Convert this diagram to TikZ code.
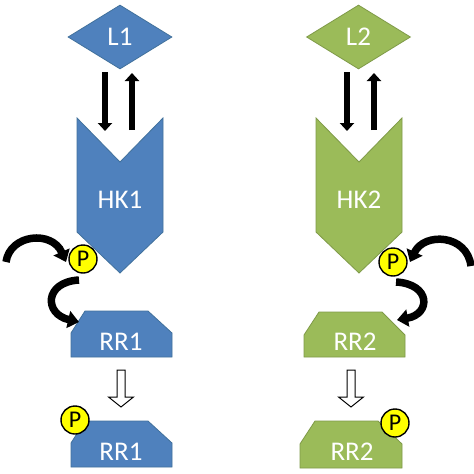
\documentclass[tikz,border=0pt]{standalone}
\usepackage{fontspec}
\setmainfont{Carlito}
\usetikzlibrary{shapes.geometric,arrows.meta}
\definecolor{bfill}{HTML}{4F81BD}
\definecolor{bline}{HTML}{41719C}
\definecolor{gfill}{HTML}{9BBB59}
\definecolor{gline}{HTML}{7F9A48}
\definecolor{pyel}{HTML}{FFFF00}
\tikzset{
  lbl/.style={text=white, font=\fontsize{27}{30}\selectfont, inner sep=0pt},
  shp/.style={fill=#1fill, draw=#1line, line width=0.8pt},
  lig/.style={diamond, shp=#1, minimum width=104pt, minimum height=64pt, inner sep=0pt, lbl},
  pcirc/.style={circle, fill=pyel, draw=black, line width=1.4pt, minimum size=28pt, inner sep=0pt, font=\fontsize{24}{26}\selectfont},
  bind/.style={line width=6.5pt, -{Triangle[width=14pt,length=8pt]}},
  curv/.style={line width=7.5pt, -{Triangle[width=17pt,length=11pt]}},
  hollow/.style={fill=white, draw=black, line width=1pt, line join=miter}
}
\begin{document}
\begin{tikzpicture}[x=1pt,y=-1pt]
\useasboundingbox (0,0) rectangle (474,474);
\fill[white] (0,0) rectangle (474,474);

% ligands
\node[lig=b] (L1) at (120,37) {L1};
\node[lig=g] (L2) at (358.5,37) {L2};

% histidine kinases
\draw[shp=b] (77,118) -- (120,162) -- (163,118) -- (163,232) -- (120,273) -- (77,232) -- cycle;
\node[lbl] (HK1) at (120,200) {HK1};
\draw[shp=g] (316,118) -- (359,162) -- (402,118) -- (402,232) -- (359,273) -- (316,232) -- cycle;
\node[lbl] (HK2) at (359,200) {HK2};

% response regulators
\draw[shp=b] (71,357) -- (71,333) -- (85,311) -- (148,311) -- (172,333) -- (172,357) -- cycle;
\node[lbl] (RR1a) at (121,342) {RR1};
\draw[shp=b] (71,467) -- (71,443) -- (85,421) -- (148,421) -- (172,443) -- (172,467) -- cycle;
\node[lbl] (RR1b) at (121,452) {RR1};
\draw[shp=g] (304,357) -- (304,335) -- (319,312) -- (382,312) -- (405,335) -- (405,357) -- cycle;
\node[lbl] (RR2a) at (355,342) {RR2};
\draw[shp=g] (300,468) -- (300,444) -- (315,421) -- (378,421) -- (402,444) -- (402,468) -- cycle;
\node[lbl] (RR2b) at (352,452) {RR2};

% phosphates
\node[pcirc] (P1) at (83,259) {P};
\node[pcirc] (P2) at (393,262) {P};
\node[pcirc] (P3) at (75,420) {P};
\node[pcirc] (P4) at (395,423) {P};

% binding arrows
\coordinate (d1s) at (105,72);  \coordinate (d1e) at (105,131);
\coordinate (u1s) at (132,130); \coordinate (u1e) at (132,73);
\coordinate (d2s) at (347,72);  \coordinate (d2e) at (347,131);
\coordinate (u2s) at (374,130); \coordinate (u2e) at (374,73);
\draw[bind] (d1s) -- (d1e);
\draw[bind] (u1s) -- (u1e);
\draw[bind] (d2s) -- (d2e);
\draw[bind] (u2s) -- (u2e);

% phosphotransfer arrows
\coordinate (c1s) at (6,262);   \coordinate (c1e) at (66,262);
\coordinate (c2s) at (79,280);  \coordinate (c2e) at (79,322);
\coordinate (c3s) at (471,266); \coordinate (c3e) at (410,262);
\coordinate (c4s) at (396,282); \coordinate (c4e) at (397,320);
\draw[curv] (c1s) .. controls (10,234) and (52,230) .. (c1e);
\draw[curv] (c2s) .. controls (44,282) and (44,314) .. (c2e);
\draw[curv] (c3s) .. controls (467,234) and (424,232) .. (c3e);
\draw[curv] (c4s) .. controls (431,284) and (431,314) .. (c4e);

% hollow arrows
\draw[hollow] (117,370) -- (125,370) -- (125,397) -- (133.5,397) -- (121,407) -- (108.5,397) -- (117,397) -- cycle;
\draw[hollow] (347,370) -- (355,370) -- (355,397) -- (363.5,397) -- (351,407) -- (338.5,397) -- (347,397) -- cycle;
\end{tikzpicture}
\end{document}
